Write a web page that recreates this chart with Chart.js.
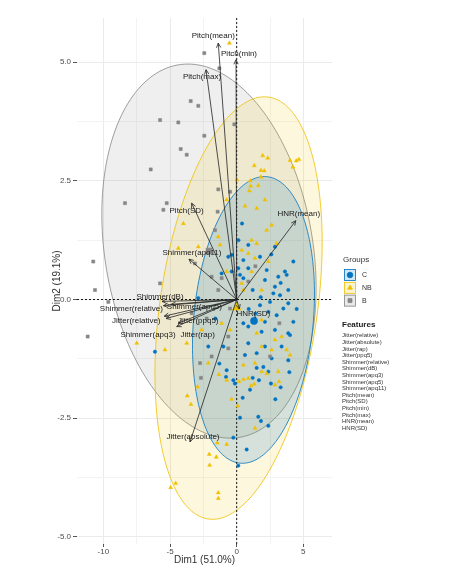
<!DOCTYPE html>
<html>
<head>
<meta charset="utf-8">
<script src="https://cdn.jsdelivr.net/npm/chart.js@4.4.0/dist/chart.umd.min.js"></script>
<style>
  html, body { margin: 0; padding: 0; background: #fff; }
</style>
</head>
<body>
<canvas id="pca" width="474" height="568"></canvas>
<script>
// axis ticks
var xTicks = [-10, -7.5, -5, -2.5, 0, 2.5, 5];
var xMajor = [-10, -5, 0, 5];
var yTicks = [-5, -3.75, -2.5, -1.25, 0, 1.25, 2.5, 3.75, 5];
var yMajor = [-5, -2.5, 0, 2.5, 5];

var groupNames = ['C', 'NB', 'B'];
var groupColors = ['#0073C2', '#EFC000', '#868686'];

// individuals (Dim1, Dim2)
var groupC = [
  [-0.38,0.94],[0.13,1.25],[0.87,1.15],[2.25,0.62],[2.12,0.41],[3.12,0.48],[3.62,0.59],[4.25,0.8],
  [2.87,0.27],[2.75,0.13],[3.25,0.09],[3.87,-0.08],[1.75,-0.12],[2.37,-0.26],[3.0,-0.33],[4.25,-0.47],
  [2.12,-0.47],[0.87,-0.57],[2.87,-0.64],[3.87,-0.71],[0.87,-0.92],[2.12,-0.99],[3.37,-0.99],[0.62,-1.17],
  [1.5,-1.13],[2.62,-1.24],[3.87,-1.28],[-0.38,0.59],[-0.63,0.9],[-1.13,0.55],[-2.88,0.03],[-6.13,-1.1],
  [-2.13,-0.99],[-1.0,-0.99],[-0.8,-1.63],[-0.25,-1.7],[-0.13,-1.77],[0.45,-2.07],[1.2,-1.65],[1.5,-1.44],
  [2.0,-1.42],[1.67,-1.7],[2.57,-1.77],[2.37,-1.52],[3.95,-1.53],[0.25,-2.49],[1.62,-2.47],[1.82,-2.56],
  [2.37,-2.66],[-0.25,-2.91],[0.75,-3.16],[0.12,-3.5],[3.75,0.52],[3.5,-0.19],[1.87,-0.68],[0.5,-0.5],
  [4.0,-0.75],[-0.75,-1.49],[0.5,0.45],[0.25,0.52],[3.3,0.35],[2.6,0.95],[1.2,0.2],[0.9,-0.2],
  [-1.6,-0.4],[-1.3,-1.35],[1.0,-1.9],[2.9,-2.1],[3.3,-1.85],[4.5,-0.2],[0.4,1.6],[1.8,0.05],
  [0.5,0.83],[0.87,0.66],[0.12,0.66],[1.75,0.9],[2.87,1.11],[3.87,0.2],[1.4,-0.3],[2.5,-0.05]
];
var groupNB = [
  [-0.55,5.40],[1.95,3.03],[2.33,2.98],[4.0,2.93],[4.47,2.92],[4.67,2.95],[4.22,2.79],[1.32,2.82],
  [1.82,2.72],[2.07,2.71],[1.82,2.58],[1.02,2.5],[0.02,2.52],[1.05,2.39],[1.62,2.4],[0.95,2.29],
  [0.62,1.97],[1.5,1.92],[2.25,1.46],[2.62,1.57],[1.12,1.25],[1.5,1.18],[0.37,1.04],[1.37,0.87],
  [-1.25,1.15],[-2.88,1.11],[-0.75,0.59],[1.12,0.59],[0.37,0.34],[1.87,0.2],[-4.0,1.6],[-4.38,1.08],
  [-7.5,-0.92],[-5.38,-1.06],[-3.75,-0.92],[-2.63,-0.64],[-1.13,-0.5],[-0.5,-0.64],[1.5,-0.71],[1.87,-0.99],
  [2.62,-1.06],[3.37,-0.78],[1.37,-1.34],[0.5,-1.38],[-2.13,-1.34],[-1.38,1.32],[2.12,2.1],[-0.75,2.1],
  [3.0,1.18],[-3.71,-2.03],[-3.43,-2.21],[-2.06,-3.26],[-1.53,-3.32],[-2.03,-3.49],[-4.95,-3.96],[-4.58,-3.87],
  [-1.38,-4.07],[-1.38,-4.19],[-0.75,-3.05],[-1.46,-3.02],[1.37,-2.71],[0.07,-2.24],[-0.38,-2.1],[-1.33,-1.58],
  [-0.75,-1.7],[0.5,-1.68],[0.87,-1.66],[1.07,-1.82],[1.32,-1.78],[1.87,-1.52],[2.25,-1.56],[3.12,-1.52],
  [3.17,-1.73],[0.17,-1.73],[-2.93,-1.84],[4.0,-1.17],[2.87,-1.8],
  [0.87,0.97],[2.37,0.8],[0.5,0.2],[1.87,-0.43],[2.87,-0.85],[3.75,-1.06]
];
var groupB = [
  [-2.43,5.19],[-1.30,4.87],[-3.45,4.18],[-2.88,4.08],[-5.75,3.78],[-4.38,3.73],[-2.43,3.45],[-0.18,3.69],
  [-4.2,3.17],[-3.75,3.05],[-6.45,2.74],[-1.38,2.32],[-8.38,2.03],[-5.5,1.89],[-5.25,2.03],[-10.76,0.80],
  [-10.63,0.2],[-9.63,-0.05],[-11.18,-0.78],[-1.43,1.85],[-0.5,2.27],[-1.63,1.46],[-3.13,0.76],[-1.88,0.48],
  [-1.13,0.45],[-1.38,0.2],[0.87,0.38],[-0.5,-0.19],[-2.25,-0.4],[-3.38,-0.29],[-0.63,-0.78],[-0.63,-1.03],
  [-1.88,-1.2],[-2.75,-1.34],[-2.68,-1.65],[-5.75,0.34],[2.5,-1.2],[1.4,0.7],[3.2,-0.5]
];
// group means (big markers)
var centroids = [[1.3,-0.45],[0.0,-0.17],[-2.08,1.02]];

// concentration ellipses: centre, conjugate half-axes (Dim1, Dim2)
var ellipseCentre = [[1.26,-0.43],[0.14,-0.18],[-2.08,1.02]];
var ellipseAxisU = [[0.83,3.02],[1.95,4.45],[-1.58,3.94]];
var ellipseAxisV = [[4.5,0],[5.96,0],[7.88,0]];

// variables (arrow tips)
var featureNames = ['Jitter(relative)','Jitter(absolute)','Jitter(rap)','Jitter(ppq5)','Shimmer(relative)',
  'Shimmer(dB)','Shimmer(apq3)','Shimmer(apq5)','Shimmer(apq11)','Pitch(mean)','Pitch(SD)','Pitch(min)',
  'Pitch(max)','HNR(mean)','HNR(SD)'];
var loadDim1 = [-5.43,-3.5,-4.5,-4.38,-5.5,-5.6,-5.3,-4.9,-3.58,-1.38,-3.38,-0.05,-2.3,4.43,0.2];
var loadDim2 = [-0.35,-3.0,-0.57,-0.5,-0.13,-0.04,-0.4,-0.1,0.85,5.40,2.03,5.05,4.84,1.66,-0.2];

// label nudges in pixels (layout only)
var labelNudge = [[-28,5],[3,-5],[21,8],[20,-2],[-32,3],[-2,-5],[-18,16],[23,3],[3,-6],
  [-5,-7],[-5,8],[3,-6],[-4,7],[3,-7],[14,5]];

var FONT = "'Liberation Sans', Arial, sans-serif";
Chart.defaults.font.family = FONT;

function toXY(arr) { return arr.map(function(p) { return {x: p[0], y: p[1]}; }); }
function alpha(hex, a) {
  var n = parseInt(hex.slice(1), 16);
  return 'rgba(' + (n >> 16) + ',' + ((n >> 8) & 255) + ',' + (n & 255) + ',' + a + ')';
}
var fillAlpha = [0.16, 0.13, 0.13];

var pcaPlugin = {
  id: 'pcaExtras',
  beforeDatasetsDraw: function(chart) {
    var ctx = chart.ctx, xs = chart.scales.x, ys = chart.scales.y, a = chart.chartArea;
    ctx.save();
    ctx.beginPath();
    ctx.rect(a.left, a.top, a.right - a.left, a.bottom - a.top);
    ctx.clip();
    [2, 1, 0].forEach(function(g) {
      var c = ellipseCentre[g], u = ellipseAxisU[g], v = ellipseAxisV[g];
      ctx.beginPath();
      for (var i = 0; i <= 180; i++) {
        var t = i / 180 * Math.PI * 2;
        var px = xs.getPixelForValue(c[0] + u[0] * Math.cos(t) + v[0] * Math.sin(t));
        var py = ys.getPixelForValue(c[1] + u[1] * Math.cos(t) + v[1] * Math.sin(t));
        if (i === 0) ctx.moveTo(px, py); else ctx.lineTo(px, py);
      }
      ctx.closePath();
      ctx.fillStyle = alpha(groupColors[g], fillAlpha[g]);
      ctx.fill();
      ctx.strokeStyle = groupColors[g];
      ctx.lineWidth = 0.8;
      ctx.stroke();
    });
    // dashed zero lines
    ctx.setLineDash([2, 2]);
    ctx.strokeStyle = '#000';
    ctx.lineWidth = 0.9;
    var x0 = xs.getPixelForValue(0), y0 = ys.getPixelForValue(0);
    ctx.beginPath();
    ctx.moveTo(x0, a.top); ctx.lineTo(x0, a.bottom);
    ctx.moveTo(a.left, y0); ctx.lineTo(a.right, y0);
    ctx.stroke();
    ctx.restore();
  },
  afterDatasetsDraw: function(chart) {
    var ctx = chart.ctx, xs = chart.scales.x, ys = chart.scales.y;
    var ox = xs.getPixelForValue(0), oy = ys.getPixelForValue(0);
    ctx.save();
    ctx.strokeStyle = '#222';
    ctx.lineWidth = 0.8;
    featureNames.forEach(function(name, i) {
      var tx = xs.getPixelForValue(loadDim1[i]), ty = ys.getPixelForValue(loadDim2[i]);
      var ang = Math.atan2(ty - oy, tx - ox), h = 5;
      ctx.beginPath();
      ctx.moveTo(ox, oy); ctx.lineTo(tx, ty);
      ctx.moveTo(tx - h * Math.cos(ang - 0.45), ty - h * Math.sin(ang - 0.45));
      ctx.lineTo(tx, ty);
      ctx.lineTo(tx - h * Math.cos(ang + 0.45), ty - h * Math.sin(ang + 0.45));
      ctx.stroke();
    });
    ctx.font = '8px ' + FONT;
    ctx.fillStyle = '#1a1a1a';
    ctx.textAlign = 'center';
    ctx.textBaseline = 'middle';
    featureNames.forEach(function(name, i) {
      var tx = xs.getPixelForValue(loadDim1[i]), ty = ys.getPixelForValue(loadDim2[i]);
      ctx.fillText(name, tx + labelNudge[i][0], ty + labelNudge[i][1]);
    });
    ctx.restore();
  },
  afterDraw: function(chart) {
    var ctx = chart.ctx;
    var lx = 343;
    ctx.save();
    ctx.textBaseline = 'middle';
    ctx.textAlign = 'left';
    ctx.fillStyle = '#333';
    ctx.font = '8px ' + FONT;
    ctx.fillText('Groups', lx, 260);
    var styles = ['circle', 'triangle', 'rect'];
    groupNames.forEach(function(g, i) {
      var by = 269 + i * 12.8;
      ctx.fillStyle = '#fff';
      ctx.fillRect(lx + 1, by, 12, 12);
      ctx.fillStyle = alpha(groupColors[i], 0.18);
      ctx.fillRect(lx + 1, by, 12, 12);
      ctx.strokeStyle = groupColors[i];
      ctx.lineWidth = 0.8;
      ctx.strokeRect(lx + 1.5, by + 0.5, 11, 11);
      ctx.fillStyle = groupColors[i];
      ctx.strokeStyle = groupColors[i];
      Chart.helpers.drawPoint(ctx, {pointStyle: styles[i], radius: 2.8, borderWidth: 0.5, rotation: 0}, lx + 7, by + 6);
      ctx.fillStyle = '#333';
      ctx.font = '7px ' + FONT;
      ctx.fillText(g, lx + 19, by + 6);
    });
    ctx.font = 'bold 8px ' + FONT;
    ctx.fillStyle = '#222';
    ctx.fillText('Features', lx - 1, 325);
    ctx.font = '6px ' + FONT;
    ctx.fillStyle = '#333';
    featureNames.forEach(function(name, i) {
      ctx.fillText(name, lx - 1, 335.7 + i * 6.6);
    });
    ctx.restore();
  }
};

function scatterSet(label, pts, color, style, r) {
  return {
    label: label, data: toXY(pts), pointStyle: style, pointRadius: r,
    backgroundColor: color, borderColor: color, borderWidth: 0.5
  };
}

new Chart(document.getElementById('pca'), {
  type: 'scatter',
  data: {
    datasets: [
      scatterSet('B', groupB, groupColors[2], 'rect', 2.2),
      scatterSet('NB', groupNB, groupColors[1], 'triangle', 2.3),
      scatterSet('C', groupC, groupColors[0], 'circle', 1.7),
      {
        label: 'means', data: toXY(centroids),
        pointStyle: ['circle', 'triangle', 'rect'], pointRadius: [3.6, 5, 4.2],
        backgroundColor: groupColors, borderColor: groupColors, borderWidth: 0.5
      }
    ]
  },
  options: {
    responsive: false,
    animation: false,
    events: [],
    layout: { padding: { left: 51, right: 142, top: 18, bottom: 0 } },
    plugins: { legend: { display: false }, tooltip: { enabled: false } },
    scales: {
      x: {
        type: 'linear', min: -11.98, max: 7.15,
        afterBuildTicks: function(s) { s.ticks = xTicks.map(function(v) { return {value: v}; }); },
        afterFit: function(s) { s.height = 24; },
        border: { display: false },
        grid: {
          color: function(c) { return c.tick && xMajor.indexOf(c.tick.value) >= 0 ? '#EBEBEB' : '#F3F3F3'; },
          tickColor: function(c) { return c.tick && xMajor.indexOf(c.tick.value) >= 0 ? '#555' : 'rgba(0,0,0,0)'; },
          tickLength: 3
        },
        ticks: {
          autoSkip: false, maxRotation: 0, padding: 0, color: '#4D4D4D', font: { size: 8 },
          callback: function(v) { return xMajor.indexOf(v) >= 0 ? String(v) : ''; }
        },
        title: { display: true, text: 'Dim1 (51.0%)', color: '#333', font: { size: 10 }, padding: { top: 0, bottom: 2 } }
      },
      y: {
        type: 'linear', min: -5.15, max: 5.93,
        afterBuildTicks: function(s) { s.ticks = yTicks.map(function(v) { return {value: v}; }); },
        afterFit: function(s) { s.width = 26; },
        border: { display: false },
        grid: {
          color: function(c) { return c.tick && yMajor.indexOf(c.tick.value) >= 0 ? '#EBEBEB' : '#F3F3F3'; },
          tickColor: function(c) { return c.tick && yMajor.indexOf(c.tick.value) >= 0 ? '#555' : 'rgba(0,0,0,0)'; },
          tickLength: 4
        },
        ticks: {
          autoSkip: false, padding: 2, color: '#4D4D4D', font: { size: 8 },
          callback: function(v) { return yMajor.indexOf(v) >= 0 ? v.toFixed(1) : ''; }
        },
        title: { display: true, text: 'Dim2 (19.1%)', color: '#333', font: { size: 10 }, padding: { top: 0, bottom: 0 } }
      }
    }
  },
  plugins: [pcaPlugin]
});
</script>
</body>
</html>
